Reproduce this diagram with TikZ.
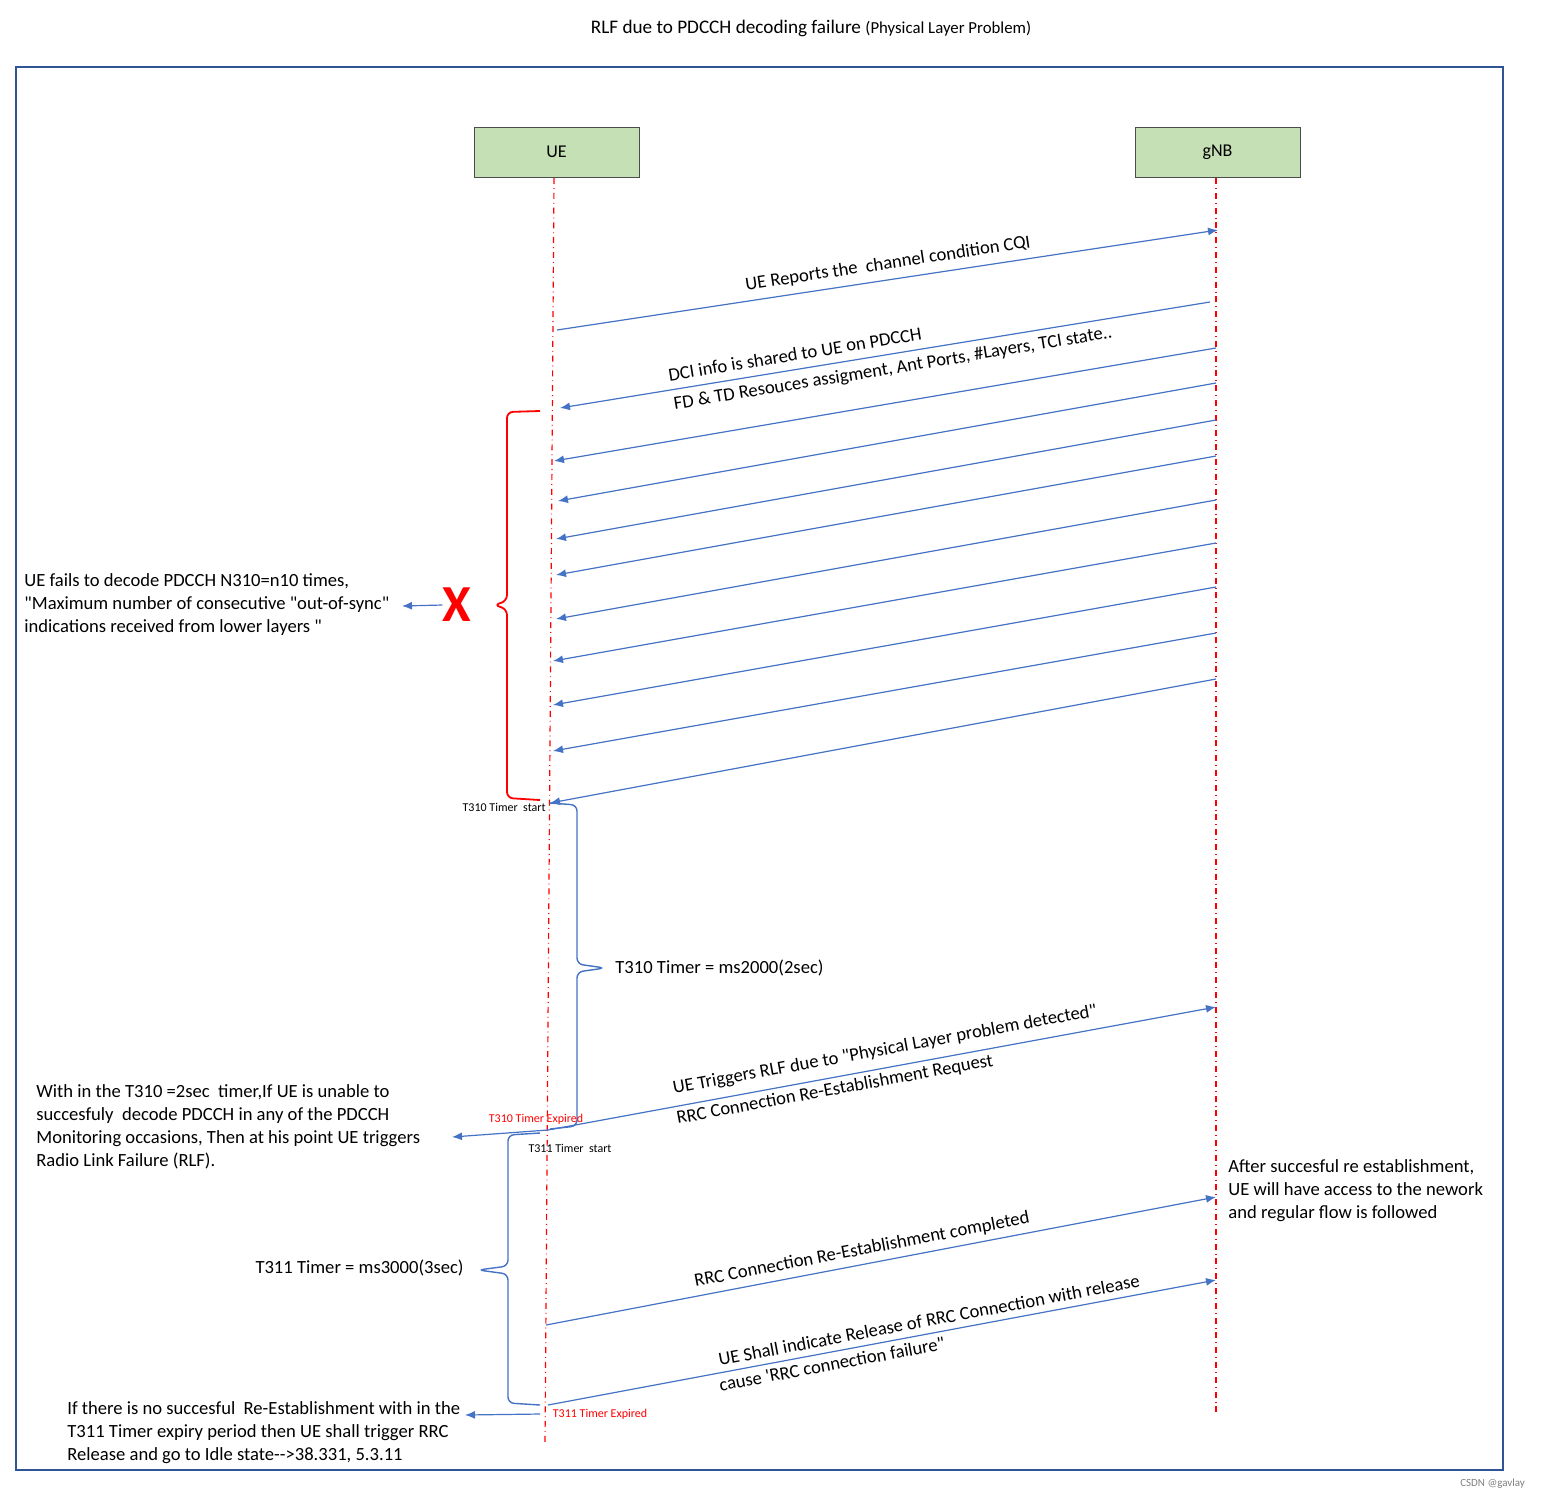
\documentclass[tikz,border=0pt]{standalone}
\usepackage{fontspec}
\setmainfont{Carlito}[Ligatures=TeXOff]
\usetikzlibrary{arrows.meta}
\definecolor{frameblue}{HTML}{2F5597}
\definecolor{ablue}{HTML}{4472C4}
\definecolor{boxgreen}{HTML}{C5E0B4}
\tikzset{
 msg/.style={draw=ablue,-{Latex[length=5pt,width=4pt]},line width=0.6pt},
 ent/.style={draw=black!70,fill=boxgreen,minimum width=82.5pt,minimum height=25pt,font=\fontsize{9}{10}\selectfont},
 life/.style={draw=red,dash dot,line width=0.6pt},
 txt/.style={font=\fontsize{9.3}{11.5}\selectfont,align=left,anchor=west,inner sep=0},
 lbl/.style={font=\fontsize{9.3}{10}\selectfont,inner sep=0},
 small/.style={font=\fontsize{6}{7}\selectfont,inner sep=0},
 redsmall/.style={small,text=red},
 bracestyle/.style={rounded corners=3pt,line width=0.7pt},
}
\begin{document}
\begin{tikzpicture}[x=0.5pt,y=-0.5pt]
\useasboundingbox (0,0) rectangle (1546,1500);
\node (title) at (811,28) {\fontsize{9.6}{10}\selectfont RLF due to PDCCH decoding failure {\fontsize{8.4}{9}\selectfont(Physical Layer Problem)}};
\draw[frameblue,line width=1.2pt] (16,67) rectangle (1503,1470);
\node[ent] (ue) at (556.5,152) {UE};
\node[ent] (gnb) at (1217.5,152) {gNB};
\coordinate (ueb) at (545,1445);
\coordinate (gb) at (1216,1415);
\draw[life] (554,178) -- (ueb);
\draw[life] (1216,178) -- (gb);
% messages
\coordinate (a1) at (557,330); \coordinate (b1) at (1218,230);
\draw[msg] (a1) -- (b1);
\node[lbl,rotate=8.6] (l1) at (888,264) {UE Reports the\ \ channel condition CQI};
\coordinate (a2) at (1210,302); \coordinate (b2) at (560,408);
\draw[msg] (a2) -- (b2);
\node[lbl,rotate=9.3] (l2) at (795,354) {DCI info is shared to UE on PDCCH};
\node[lbl,rotate=9.3] (l3) at (893,369) {FD \& TD Resouces assigment, Ant Ports, \#Layers, TCI state..};
\foreach \ya/\xb/\yb in {348/554/461,383/558/501,420/556/539,456/556/575,500/556/619,543/553/661,587/553/705,633/553/751,679/550/803}{
 \draw[msg] (1216,\ya) -- (\xb,\yb);
}
\draw[red,bracestyle,line width=0.9pt] (540,411) -- (507,412) -- (507,601) -- (494,605) -- (507,609) -- (507,798) -- (540,800);
\node[text=red,font=\bfseries\fontsize{26}{26}\selectfont,inner sep=0] (x) at (457,605) {X};
\node[txt] (t1) at (24,605) {UE fails to decode PDCCH N310=n10 times,\\"Maximum number of consecutive "out-of-sync"\\indications received from lower layers "};
\draw[msg] (x.west) -- (402,606);
\node[small,anchor=east] (t310s) at (546,807) {T310 Timer\ \ start};
\draw[ablue,bracestyle] (550,803) -- (577,805) -- (577,964) -- (605,968) -- (577,972) -- (577,1126) -- (550,1129);
\node[txt] (t310) at (615,968) {T310 Timer = ms2000(2sec)};
\coordinate (a3) at (548,1130); \coordinate (b3) at (1216,1007);
\draw[msg] (a3) -- (b3);
\node[lbl,rotate=10.4] (l4) at (885,1050) {UE Triggers RLF due to "Physical Layer problem detected"};
\node[lbl,rotate=10.4] (l5) at (835,1090) {RRC Connection Re-Establishment Request};
\node[redsmall] (t310e) at (536,1119) {T310 Timer Expired};
\node[txt] (t2) at (36,1127) {With in the T310 =2sec\ \ timer,If UE is unable to\\succesfuly\ \ decode PDCCH in any of the PDCCH\\Monitoring occasions,\ Then at his point UE triggers\\Radio Link Failure (RLF).};
\draw[msg] (a3) -- (452,1137);
\node[small] (t311s) at (570,1148) {T311 Timer\ \ start};
\draw[ablue,bracestyle] (540,1133) -- (508,1135) -- (508,1266) -- (478,1270) -- (508,1274) -- (508,1403) -- (540,1405);
\node[txt,anchor=east] (t311) at (464,1268) {T311 Timer = ms3000(3sec)};
\coordinate (a4) at (546,1325); \coordinate (b4) at (1216,1197);
\draw[msg] (a4) -- (b4);
\node[lbl,rotate=10.8] (l6) at (862,1250) {RRC Connection Re-Establishment completed};
\node[txt] (t3) at (1228,1191) {After succesful re establishment,\\UE will have access to the nework\\and regular flow is followed};
\coordinate (a5) at (548,1405); \coordinate (b5) at (1216,1280);
\draw[msg] (a5) -- (b5);
\node[lbl,rotate=10.6] (l7) at (929,1320) {UE Shall indicate Release of RRC Connection with release};
\node[lbl,rotate=10.6] (l8) at (832,1364) {cause 'RRC connection failure"};
\node[redsmall] (t311e) at (600,1414) {T311 Timer Expired};
\node[txt] (t4) at (67,1433) {If there is no succesful\ \ Re-Establishment with in the\\T311 Timer expiry period then UE shall trigger\ RRC\\Release and go to Idle state-->38.331, 5.3.11};
\draw[msg] (540,1414) -- (465,1415);
\node[font=\fontsize{5.5}{6}\selectfont,text=gray,anchor=east] (wm) at (1532,1484) {CSDN @gavlay};
\end{tikzpicture}
\end{document}
